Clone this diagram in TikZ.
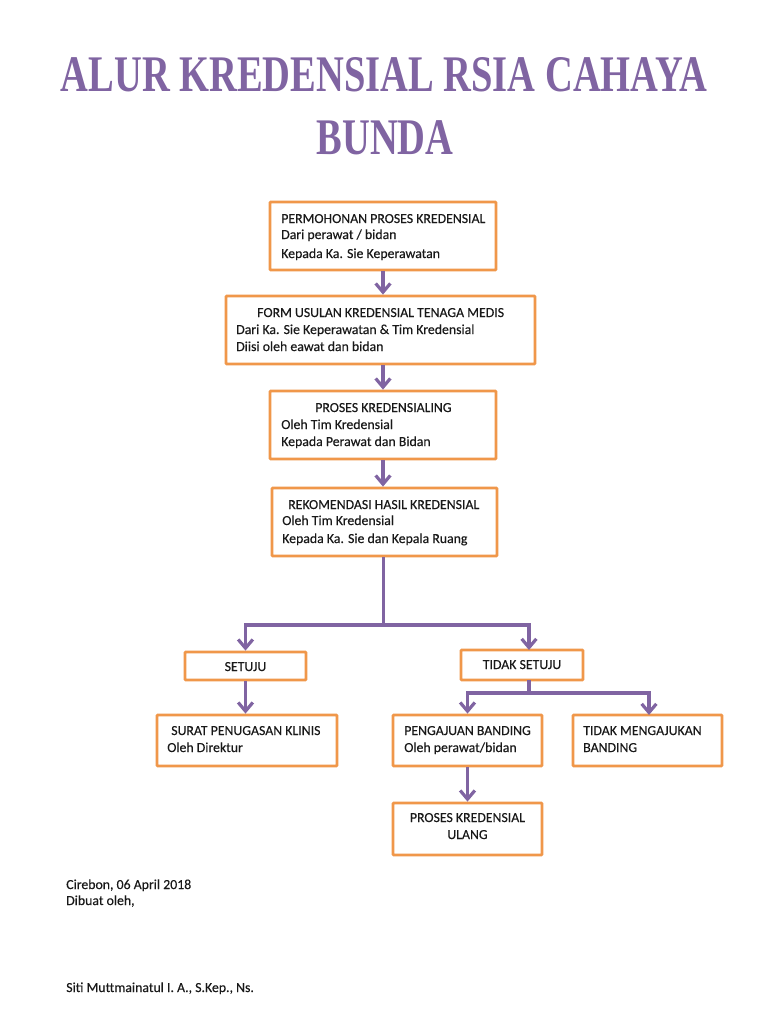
\documentclass[tikz,border=0pt]{standalone}
\usepackage{fontspec}
\setmainfont{Carlito}
\newfontfamily\ttlfont[FakeStretch=0.75]{Liberation Serif}
\usetikzlibrary{arrows.meta,calc}
\definecolor{bp}{HTML}{8064A2}
\definecolor{bo}{HTML}{F0974A}
\tikzset{
  box/.style={draw=bo,line width=2.1pt,fill=white,inner sep=0pt,rounded corners=0.6pt},
  txt/.style={anchor=base west,inner sep=0pt,font=\fontsize{10.35pt}{12pt}\selectfont\addfontfeatures{FakeBold=0.25},text=black!90},
  ctxt/.style={anchor=base,inner sep=0pt,font=\fontsize{10.35pt}{12pt}\selectfont\addfontfeatures{FakeBold=0.25},text=black!90},
  ttl/.style={anchor=base,inner sep=0pt,text=bp,font=\ttlfont\bfseries\fontsize{38.5pt}{44pt}\selectfont},
  conn/.style={draw=bp,line width=2.4pt},
  arr/.style={conn,-{Straight Barb[length=6.5pt,width=11pt,line width=2.4pt]}},
}
\newcommand{\bx}[5]{\node[box,minimum width=#4*0.75pt,minimum height=#5*0.75pt] (#1) at (#2,#3) {};}
\begin{document}
\begin{tikzpicture}[x=0.75pt,y=-0.75pt]
\useasboundingbox (0,0) rectangle (768,1024);
\fill[white] (0,0) rectangle (768,1024);
\node[ttl] (t1) at (384,92) {ALUR KREDENSIAL RSIA CAHAYA};
\node[ttl] (t2) at (385,154) {BUNDA};
\bx{b1}{383}{236}{226}{68}
\bx{b2}{380.5}{330}{309}{68}
\bx{b3}{383}{425}{226}{68}
\bx{b4}{384.5}{522}{225}{68}
\bx{s}{245.5}{666}{121}{28}
\bx{ts}{522}{665}{122}{30}
\bx{sp}{247}{740.5}{180}{51}
\bx{pb}{467.5}{740.5}{149}{51}
\bx{tm}{647.5}{740.5}{149}{51}
\bx{pk}{467.5}{829}{149}{52}
% text
\node[txt] (l1) at (281,223) {PERMOHONAN PROSES KREDENSIAL};
\node[txt] (l2) at (281,239) {Dari perawat / bidan};
\node[txt] (l3) at (281,258) {Kepada Ka. Sie Keperawatan};
\node[txt] (l4) at (257,317) {FORM USULAN KREDENSIAL TENAGA MEDIS};
\node[txt] (l5) at (236,334) {Dari Ka. Sie Keperawatan \& Tim Kredensial};
\node[txt] (l6) at (236,351) {Diisi oleh eawat dan bidan};
\node[txt] (l7) at (315,412) {PROSES KREDENSIALING};
\node[txt] (l8) at (281,429) {Oleh Tim Kredensial};
\node[txt] (l9) at (281,446) {Kepada Perawat dan Bidan};
\node[txt] (l10) at (288,509) {REKOMENDASI HASIL KREDENSIAL};
\node[txt] (l11) at (282,525) {Oleh Tim Kredensial};
\node[txt] (l12) at (282,543) {Kepada Ka. Sie dan Kepala Ruang};
\node[ctxt] (l13) at (245.5,671) {SETUJU};
\node[ctxt] (l14) at (522,669) {TIDAK SETUJU};
\node[txt] (l15) at (171,735) {SURAT PENUGASAN KLINIS};
\node[txt] (l16) at (167,752) {Oleh Direktur};
\node[txt] (l17) at (404,735) {PENGAJUAN BANDING};
\node[txt] (l18) at (404,752) {Oleh perawat/bidan};
\node[txt] (l19) at (583,735) {TIDAK MENGAJUKAN};
\node[txt] (l20) at (583,752) {BANDING};
\node[ctxt] (l21) at (467.5,822) {PROSES KREDENSIAL};
\node[ctxt] (l22) at (467.5,839) {ULANG};
\node[txt] (f1) at (66,889) {Cirebon, 06 April 2018};
\node[txt] (f2) at (66,905) {Dibuat oleh,};
\node[txt] (f3) at (66,992) {Siti Muttmainatul I. A., S.Kep., Ns.};
% connectors
\coordinate (j1) at (383.5,625);
\coordinate (j2) at (529,693);
\coordinate (tsin) at (529,650);
\coordinate (tsout) at (529,680);
\coordinate (tmin) at (649,715);
\draw[arr] (b1.south) -- (b1.south |- b2.north);
\draw[arr] (b3.north |- b2.south) -- (b3.north);
\draw[arr] (b3.south) -- (b3.south |- b4.north);
\draw[conn] (b4.south -| j1) -- (j1);
\draw[arr] (j1) -| (s.north);
\draw[arr] (j1) -| (tsin);
\draw[conn] (tsout) -- (j2);
\draw[arr] (j2) -| (pb.north);
\draw[arr] (j2) -| (tmin);
\draw[arr] (s.south) -- (s.south |- sp.north);
\draw[arr] (pb.south) -- (pk.north);
\end{tikzpicture}
\end{document}
